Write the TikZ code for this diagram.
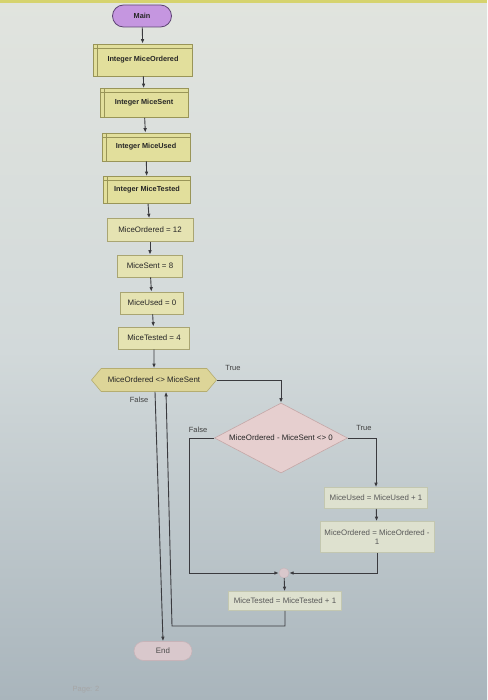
\documentclass[tikz,border=0pt]{standalone}
\usepackage{fontspec}
\setmainfont{Liberation Sans}
\usetikzlibrary{shapes.geometric,shapes.symbols,shapes.misc,arrows.meta}
\definecolor{bgtop}{HTML}{E1E4DE}
\definecolor{bgmid}{HTML}{D2D9DA}
\definecolor{bgbot}{HTML}{A9B5BC}
\definecolor{band}{HTML}{D6D36E}
\definecolor{mainf}{HTML}{C596E0}
\definecolor{mainb}{HTML}{5E4474}
\definecolor{declf}{HTML}{E2DF9C}
\definecolor{declb}{HTML}{999558}
\definecolor{asgf}{HTML}{E5E3B2}
\definecolor{asgb}{HTML}{A9A572}
\definecolor{hexf}{HTML}{DDD598}
\definecolor{hexb}{HTML}{B5AD70}
\definecolor{diaf}{HTML}{E6CFCF}
\definecolor{diab}{HTML}{C4A7A7}
\definecolor{lowf}{HTML}{DEE1CF}
\definecolor{lowb}{HTML}{C3C7B0}
\definecolor{endf}{HTML}{D9C8CC}
\definecolor{endb}{HTML}{C7B3B8}
\definecolor{linec}{HTML}{3A3A3E}
\tikzset{
  base/.style={font=\fontsize{7.9}{8.8}\selectfont, text=black!85, inner sep=1pt, align=center},
  boldtext/.style={font=\fontsize{7.3}{8.2}\selectfont\bfseries},
  mainbox/.style={base, boldtext, rounded rectangle, draw=mainb, fill=mainf, line width=0.8pt},
  declbox/.style={base, boldtext, rectangle, draw=declb, fill=declf, line width=0.7pt,
    path picture={\draw[declb,line width=0.6pt]
      ([yshift=-4pt]path picture bounding box.north west) -- ([yshift=-4pt]path picture bounding box.north east)
      ([xshift=4pt]path picture bounding box.north west) -- ([xshift=4pt]path picture bounding box.south west);}},
  asgbox/.style={base, rectangle, draw=asgb, fill=asgf, line width=0.6pt},
  hexbox/.style={base, signal, signal to=west and east, signal pointer angle=100, draw=hexb, fill=hexf, line width=0.6pt},
  diabox/.style={base, diamond, aspect=1.9, inner sep=0pt, draw=diab, fill=diaf, line width=0.6pt},
  lowbox/.style={base, rectangle, draw=lowb, fill=lowf, line width=0.6pt, text=black!65},
  endbox/.style={base, rounded rectangle, draw=endb, fill=endf, line width=0.6pt, text=black!70},
  arr/.style={draw=linec, line width=0.9pt, -{Latex[length=4.5pt,width=3.6pt]}},
  ln/.style={draw=linec, line width=0.9pt},
  lbl/.style={font=\fontsize{7.5}{8.5}\selectfont, text=black!75, inner sep=0pt}
}
\begin{document}
\begin{tikzpicture}[x=1pt,y=-1pt]
\useasboundingbox (0,0) rectangle (487,700);
\shade[top color=bgtop, bottom color=bgbot, middle color=bgmid] (0,0) rectangle (487,700);
\fill[band] (0,0) rectangle (487,3);

\node[mainbox, minimum width=61pt, minimum height=22pt] (main) at (142,16) {Main};
\node[declbox, minimum width=99pt, minimum height=32pt] (imo) at (143,60) {Integer MiceOrdered};
\node[declbox, minimum width=88pt, minimum height=29pt] (ims) at (144,103) {Integer MiceSent};
\node[declbox, minimum width=88pt, minimum height=28pt] (imu) at (146,147) {Integer MiceUsed};
\node[declbox, minimum width=87pt, minimum height=27pt] (imt) at (147,190) {Integer MiceTested};
\node[asgbox, minimum width=86pt, minimum height=23pt] (mo12) at (150,230) {MiceOrdered = 12};
\node[asgbox, minimum width=65pt, minimum height=22pt] (ms8) at (150,266) {MiceSent = 8};
\node[asgbox, minimum width=63pt, minimum height=22pt] (mu0) at (152,303) {MiceUsed = 0};
\node[asgbox, minimum width=71pt, minimum height=22pt] (mt4) at (154,338) {MiceTested = 4};
\node[hexbox, minimum width=125pt, minimum height=23pt] (hex) at (154,380) {MiceOrdered <> MiceSent};
\node[diabox, minimum width=133pt, minimum height=70pt] (dia) at (281,438) {MiceOrdered - MiceSent <> 0};
\node[lowbox, minimum width=103pt, minimum height=21pt] (muu) at (376,498) {MiceUsed = MiceUsed + 1};
\node[lowbox, minimum width=114pt, minimum height=31pt] (moo) at (377,537) {MiceOrdered = MiceOrdered -\\1};
\node[circle, draw=endb, fill=endf, minimum size=10pt, inner sep=0pt] (circ) at (284,573) {};
\node[lowbox, minimum width=113pt, minimum height=19pt] (mtt) at (285,601) {MiceTested = MiceTested + 1};
\node[endbox, minimum width=60pt, minimum height=19pt] (end) at (163,651) {End};

\draw[arr] (main) -- (imo);
\draw[arr] (imo) -- (ims);
\draw[arr] (ims) -- (imu);
\draw[arr] (imu) -- (imt);
\draw[arr] (imt) -- (mo12);
\draw[arr] (mo12) -- (ms8);
\draw[arr] (ms8) -- (mu0);
\draw[arr] (mu0) -- (mt4);
\draw[arr] (mt4) -- (hex);

\draw[arr] (hex.east) -| (dia.north);
\node[lbl] (ltrue1) at (233,368) {True};
\node[lbl] (lfalse1) at (139,400) {False};
\draw[arr] ([xshift=1pt]hex.south) -- (end.north);

\coordinate (fl) at (189,573);
\draw[arr] (dia.west) -| (fl) -- (circ.west);
\node[lbl] (lfalse2) at (198,430) {False};
\draw[arr] (dia.east) -| (muu.north);
\node[lbl] (ltrue2) at (364,428) {True};
\draw[arr] (muu) -- (moo);
\draw[arr] (moo.south) |- (circ.east);
\draw[arr] (circ) -- (mtt);

\coordinate (lb) at (172,626);
\draw[arr] (mtt.south) |- (lb) -- ([xshift=12pt]hex.south);

\node[lbl, text=black!35] (page) at (86,690) {Page: 2};
\end{tikzpicture}
\end{document}
